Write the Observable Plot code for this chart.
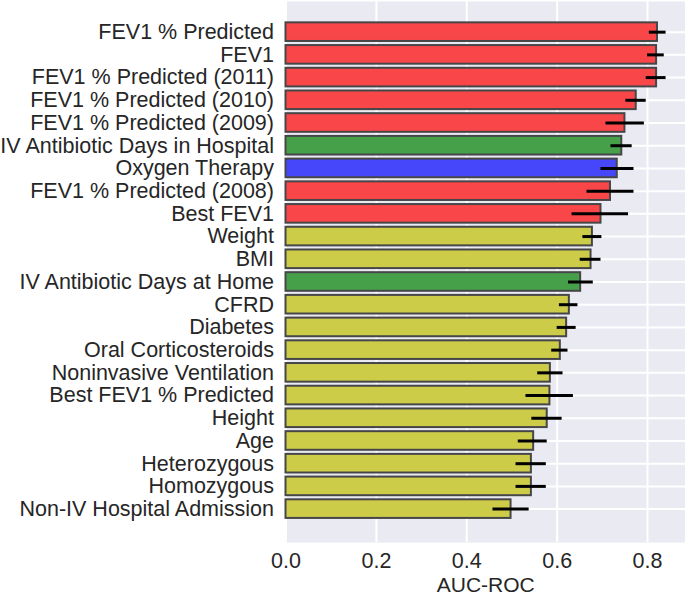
<!DOCTYPE html>
<html>
<head>
<meta charset="utf-8">
<script src="https://cdn.jsdelivr.net/npm/d3@7"></script>
<script src="https://cdn.jsdelivr.net/npm/@observablehq/plot@0.6"></script>
<style>
  html, body { margin: 0; padding: 0; background: #ffffff; }
  #chart svg { display: block; }
</style>
</head>
<body>
<div id="chart"></div>
<script>
const labels = [
  "FEV1 % Predicted", "FEV1", "FEV1 % Predicted (2011)", "FEV1 % Predicted (2010)",
  "FEV1 % Predicted (2009)", "IV Antibiotic Days in Hospital", "Oxygen Therapy",
  "FEV1 % Predicted (2008)", "Best FEV1", "Weight", "BMI", "IV Antibiotic Days at Home",
  "CFRD", "Diabetes", "Oral Corticosteroids", "Noninvasive Ventilation",
  "Best FEV1 % Predicted", "Height", "Age", "Heterozygous", "Homozygous",
  "Non-IV Hospital Admission"
];
const values = [0.822, 0.820, 0.820, 0.775, 0.750, 0.743, 0.733, 0.718, 0.697, 0.678, 0.675,
  0.652, 0.627, 0.621, 0.607, 0.585, 0.584, 0.578, 0.548, 0.543, 0.543, 0.498];
const errLow = [0.804, 0.800, 0.797, 0.752, 0.708, 0.719, 0.697, 0.666, 0.633, 0.657, 0.651,
  0.625, 0.605, 0.600, 0.588, 0.557, 0.531, 0.544, 0.514, 0.509, 0.509, 0.458];
const errHigh = [0.841, 0.837, 0.841, 0.797, 0.793, 0.766, 0.770, 0.770, 0.758, 0.699, 0.697,
  0.680, 0.646, 0.642, 0.624, 0.613, 0.636, 0.611, 0.578, 0.576, 0.576, 0.538];
const groups = ["FEV1", "FEV1", "FEV1", "FEV1", "FEV1", "IV", "Oxygen", "FEV1", "FEV1",
  "Other", "Other", "IV", "Other", "Other", "Other", "Other", "Other", "Other", "Other",
  "Other", "Other", "Other"];
const groupNames = ["FEV1", "IV", "Oxygen", "Other"];
const groupColors = ["#f94649", "#46a049", "#4646fb", "#cccc49"];
const xTicks = [0, 0.2, 0.4, 0.6, 0.8];

const data = labels.map((label, i) => ({
  label, value: values[i], lo: errLow[i], hi: errHigh[i], group: groups[i]
}));

const font = "'Liberation Sans', Arial, sans-serif";

const chart = Plot.plot({
  width: 685,
  height: 595,
  marginLeft: 285.5,
  marginRight: 0,
  marginTop: 1,
  marginBottom: 53,
  style: { fontFamily: font, fontSize: "21.5px", color: "#262626", background: "#ffffff" },
  x: { domain: [0, 0.884] },
  y: { domain: labels, paddingInner: 0.18, paddingOuter: 1, align: 0.47, round: false },
  color: { domain: groupNames, range: groupColors },
  marks: [
    Plot.frame({ fill: "#eaeaf2", stroke: null }),
    Plot.gridX(xTicks, { stroke: "#ffffff", strokeOpacity: 1, strokeWidth: 2 }),
    Plot.gridY(labels, { stroke: "#ffffff", strokeOpacity: 1, strokeWidth: 2 }),
    Plot.barX(data, { x: "value", y: "label", fill: "group", stroke: "#464649", strokeWidth: 2 }),
    Plot.ruleY(data, { y: "label", x1: "lo", x2: "hi", stroke: "#000000", strokeWidth: 3 }),
    Plot.axisX(xTicks, { tickSize: 0, tickPadding: 10, tickFormat: d3.format(".1f"),
      fontSize: 21.5, fill: "#262626", label: null }),
    Plot.axisY({ tickSize: 0, tickPadding: 12, fontSize: 21.5, fill: "#262626", label: null }),
    Plot.text(["AUC-ROC"], { frameAnchor: "bottom", lineAnchor: "middle", dy: 42.5,
      fontSize: 21, fill: "#262626" })
  ]
});

document.getElementById("chart").appendChild(chart);
</script>
</body>
</html>
